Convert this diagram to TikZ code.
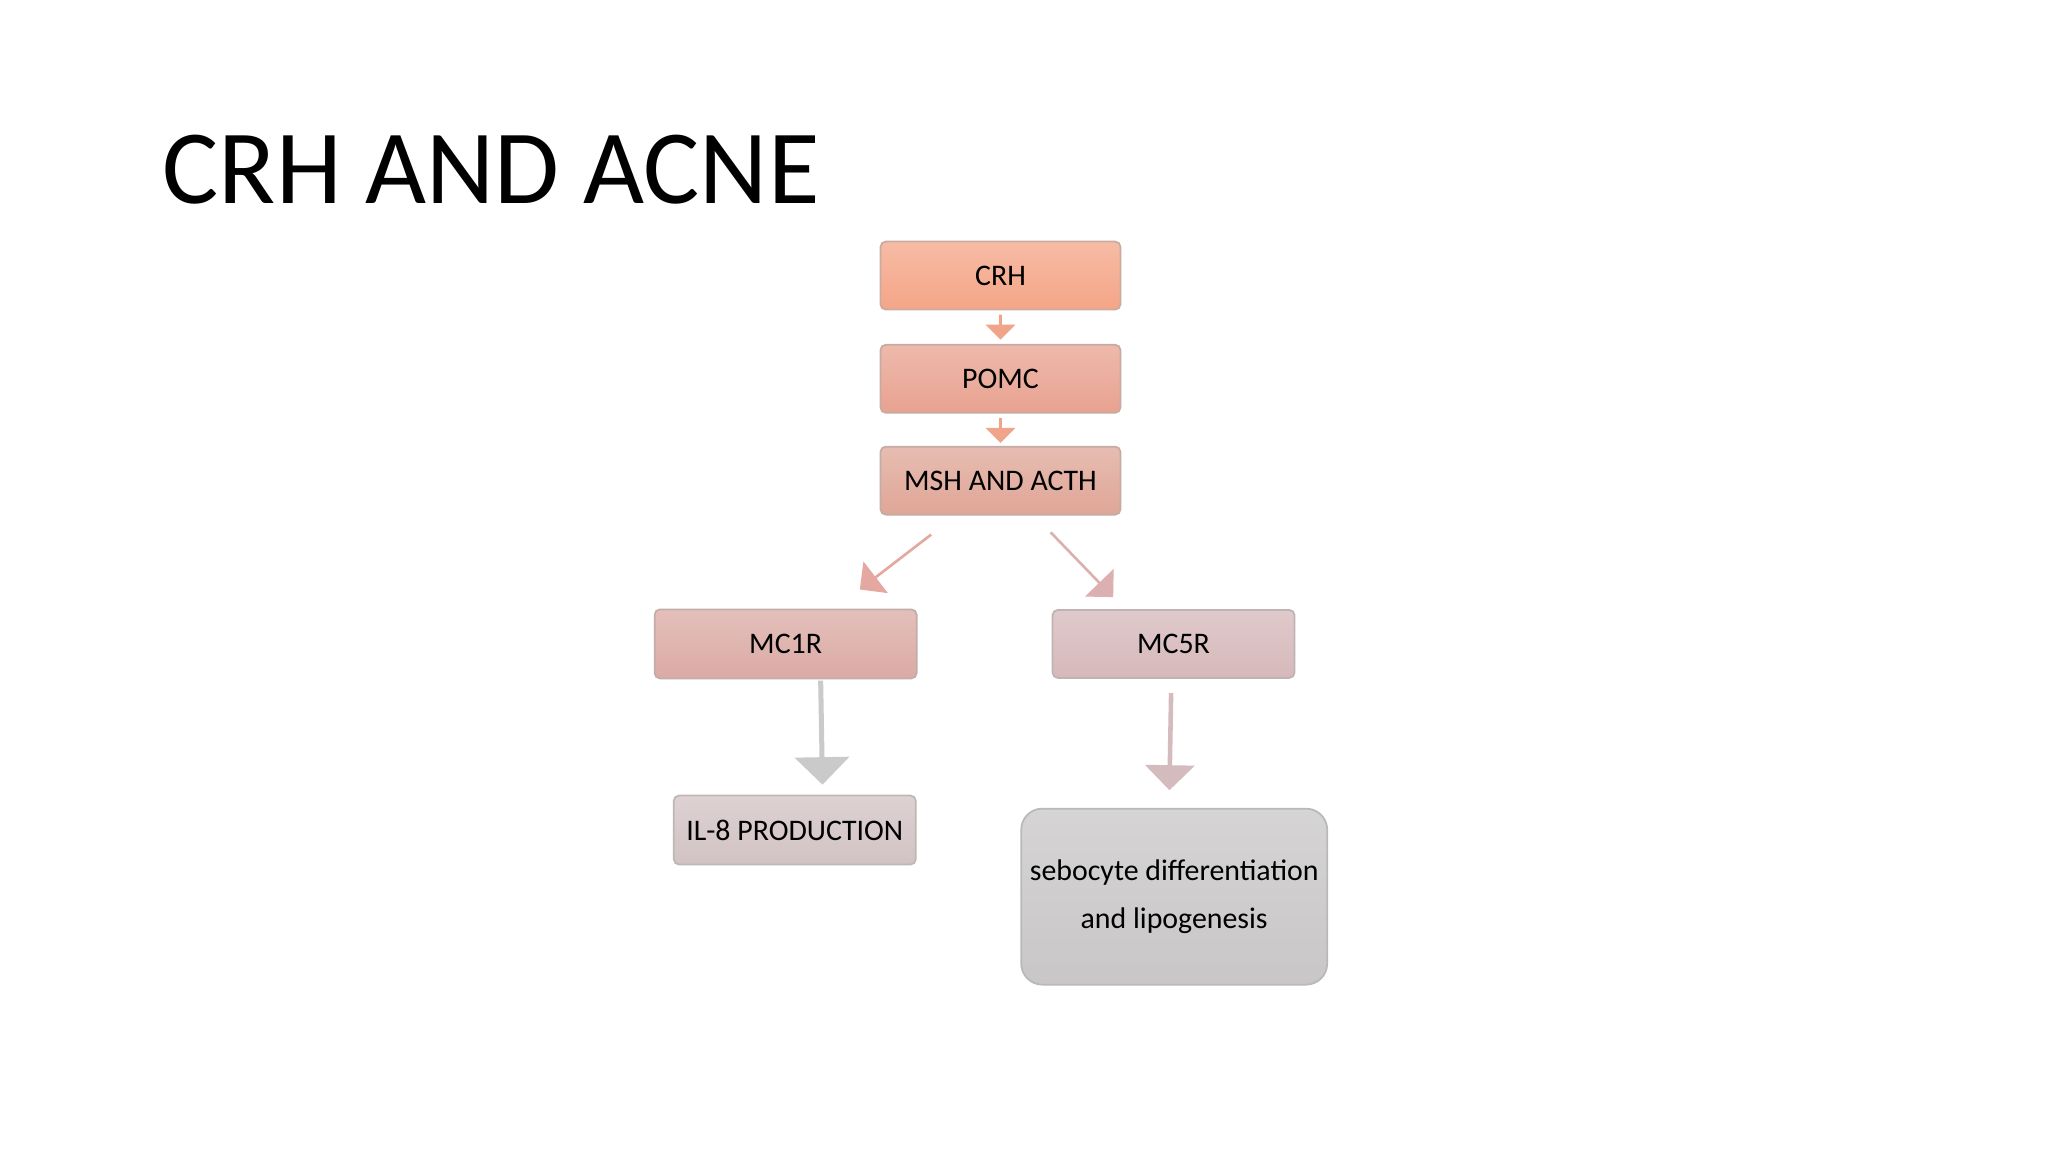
\documentclass[tikz,border=0pt]{standalone}
\usepackage{fontspec}
\setmainfont{Carlito}
\usetikzlibrary{shapes.arrows}
\begin{document}
\begin{tikzpicture}[x=0.01306cm,y=-0.01306cm,
 box/.style={draw=#1!70!black!60, line width=0.5pt, rounded corners=1.5pt, top color=#1!75!white, bottom color=#1, font=\fontsize{8.5}{11}\selectfont, inner sep=0pt},
 barrow/.style={single arrow, draw=none, fill=#1, inner sep=0pt, single arrow head extend=0.1cm, minimum height=0.9cm, minimum width=0.4cm, single arrow tip angle=90}]
\useasboundingbox (0,0) rectangle (1568,882);
\fill[white] (0,0) rectangle (1568,882);
\node[anchor=west, font=\fontsize{30}{34}\selectfont] (title) at (115,130) {CRH AND ACNE};
\definecolor{c1}{HTML}{F4A587}
\definecolor{c2}{HTML}{E8A290}
\definecolor{c3}{HTML}{DFA697}
\definecolor{c4}{HTML}{DBAAA4}
\definecolor{c5}{HTML}{D6B8BA}
\definecolor{c6}{HTML}{D2C2C4}
\definecolor{c7}{HTML}{C8C6C7}
\definecolor{a1}{HTML}{F0A48A}
\definecolor{a2}{HTML}{E4A8A0}
\definecolor{a3}{HTML}{DCB0B0}
\definecolor{a4}{HTML}{CACACA}
\definecolor{a5}{HTML}{D4BCBE}
\node[box=c1, minimum width=2.4cm, minimum height=0.68cm] (crh) at (766,211) {CRH};
\node[box=c2, minimum width=2.4cm, minimum height=0.68cm] (pomc) at (766,290) {POMC};
\node[box=c3, minimum width=2.4cm, minimum height=0.68cm] (msh) at (766,368) {MSH AND ACTH};
\node[box=c4, minimum width=2.62cm, minimum height=0.69cm] (mc1r) at (601.5,493) {MC1R};
\node[box=c5, minimum width=2.42cm, minimum height=0.68cm] (mc5r) at (898.5,493) {MC5R};
\node[box=c6, minimum width=2.42cm, minimum height=0.69cm] (il8) at (608.5,635.5) {IL-8 PRODUCTION};
\node[box=c7, rounded corners=6pt, minimum width=3.06cm, minimum height=1.76cm, align=center, font=\fontsize{8.5}{13.5}\selectfont] (seb) at (899,686.5) {sebocyte differentiation\\and lipogenesis};
\node[barrow=a1, rotate=-90, minimum height=0.25cm, minimum width=0.3cm, single arrow head extend=0.07cm] (ar1) at (766,250) {};
\node[barrow=a1, rotate=-90, minimum height=0.25cm, minimum width=0.3cm, single arrow head extend=0.07cm] (ar2) at (766,329) {};
\node[barrow=a2, rotate=217.6] (ar3) at (686,430) {};
\node[barrow=a3, rotate=-46] (ar4) at (828,432) {};
\node[barrow=a4, rotate=-89, minimum height=1.04cm, minimum width=0.55cm, single arrow head extend=0.07cm] (ar5) at (629,560) {};
\node[barrow=a5, rotate=-91, minimum height=0.97cm, minimum width=0.5cm, single arrow head extend=0.07cm] (ar6) at (896,567) {};
\end{tikzpicture}
\end{document}
